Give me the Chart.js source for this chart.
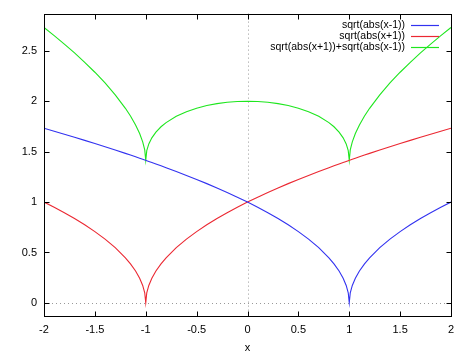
<!DOCTYPE html>
<html><head><meta charset="utf-8">
<script src="https://cdn.jsdelivr.net/npm/chart.js@4/dist/chart.umd.min.js"></script>
<style>html,body{margin:0;padding:0;background:#fff}#wrap{width:474px;height:355px}</style>
</head><body><div id="wrap"><canvas id="c" width="474" height="355"></canvas></div>
<script>
const xs = [-2, -1.9, -1.8, -1.7, -1.6, -1.5, -1.4, -1.3, -1.2, -1.15, -1.1, -1.06, -1.03, -1.01, -1, -0.99, -0.97, -0.94, -0.9, -0.85, -0.8, -0.7, -0.6, -0.5, -0.4, -0.3, -0.2, -0.1, 0, 0.1, 0.2, 0.3, 0.4, 0.5, 0.6, 0.7, 0.8, 0.85, 0.9, 0.94, 0.97, 0.99, 1, 1.01, 1.03, 1.06, 1.1, 1.15, 1.2, 1.3, 1.4, 1.5, 1.6, 1.7, 1.8, 1.9, 2];
const sqrtAbsXm1 = [1.7321, 1.7029, 1.6733, 1.6432, 1.6125, 1.5811, 1.5492, 1.5166, 1.4832, 1.4663, 1.4491, 1.4353, 1.4248, 1.4177, 1.4142, 1.4107, 1.4036, 1.3928, 1.3784, 1.3601, 1.3416, 1.3038, 1.2649, 1.2247, 1.1832, 1.1402, 1.0954, 1.0488, 1, 0.9487, 0.8944, 0.8367, 0.7746, 0.7071, 0.6325, 0.5477, 0.4472, 0.3873, 0.3162, 0.2449, 0.1732, 0.1, 0, 0.1, 0.1732, 0.2449, 0.3162, 0.3873, 0.4472, 0.5477, 0.6325, 0.7071, 0.7746, 0.8367, 0.8944, 0.9487, 1];
const sqrtAbsXp1 = [1, 0.9487, 0.8944, 0.8367, 0.7746, 0.7071, 0.6325, 0.5477, 0.4472, 0.3873, 0.3162, 0.2449, 0.1732, 0.1, 0, 0.1, 0.1732, 0.2449, 0.3162, 0.3873, 0.4472, 0.5477, 0.6325, 0.7071, 0.7746, 0.8367, 0.8944, 0.9487, 1, 1.0488, 1.0954, 1.1402, 1.1832, 1.2247, 1.2649, 1.3038, 1.3416, 1.3601, 1.3784, 1.3928, 1.4036, 1.4107, 1.4142, 1.4177, 1.4248, 1.4353, 1.4491, 1.4663, 1.4832, 1.5166, 1.5492, 1.5811, 1.6125, 1.6432, 1.6733, 1.7029, 1.7321];
const sumSqrt = [2.7321, 2.6516, 2.5677, 2.4799, 2.3871, 2.2882, 2.1817, 2.0643, 1.9304, 1.8536, 1.7653, 1.6802, 1.5980, 1.5177, 1.4142, 1.5107, 1.5768, 1.6377, 1.6946, 1.7474, 1.7888, 1.8515, 1.8974, 1.9318, 1.9578, 1.9769, 1.9898, 1.9975, 2, 1.9975, 1.9898, 1.9769, 1.9578, 1.9318, 1.8974, 1.8515, 1.7888, 1.7474, 1.6946, 1.6377, 1.5768, 1.5107, 1.4142, 1.5177, 1.5980, 1.6802, 1.7653, 1.8536, 1.9304, 2.0643, 2.1817, 2.2882, 2.3871, 2.4799, 2.5677, 2.6516, 2.7321];
const seriesLabels = ['sqrt(abs(x-1))', 'sqrt(abs(x+1))', 'sqrt(abs(x+1))+sqrt(abs(x-1))'];
const xTicks = [-2, -1.5, -1, -0.5, 0, 0.5, 1, 1.5, 2];
const yTicks = [0, 0.5, 1, 1.5, 2, 2.5];
const colors = ['rgb(50,50,240)', 'rgb(235,40,50)', 'rgb(30,230,30)'];

const FONT = 'Liberation Sans, Arial, sans-serif';
const pts = arr => xs.map((x, i) => ({x: x, y: arr[i]}));
const seriesData = [sqrtAbsXm1, sqrtAbsXp1, sumSqrt];
const fmt = v => String(v);

const framePlugin = {
  id: 'frame',
  beforeDatasetsDraw(chart) {
    const {ctx, chartArea: a, scales: {x, y}} = chart;
    ctx.save();
    ctx.strokeStyle = '#999';
    ctx.lineWidth = 1;
    ctx.setLineDash([1, 3]);
    const y0 = Math.round(y.getPixelForValue(0)) + 0.5;
    ctx.beginPath(); ctx.moveTo(a.left, y0); ctx.lineTo(a.right, y0); ctx.stroke();
    const x0 = Math.round(x.getPixelForValue(0)) + 0.5;
    ctx.beginPath(); ctx.moveTo(x0, a.top); ctx.lineTo(x0, a.bottom); ctx.stroke();
    ctx.restore();
  },
  afterDraw(chart) {
    const {ctx, chartArea: a, scales: {x, y}} = chart;
    ctx.save();
    ctx.strokeStyle = '#000';
    ctx.lineWidth = 1;
    ctx.setLineDash([]);
    const L = Math.round(a.left) + 0.5, R = Math.round(a.right) + 0.5;
    const T = Math.round(a.top) + 0.5, B = Math.round(a.bottom) + 0.5;
    ctx.strokeRect(L, T, R - L, B - T);
    const tl = 5;
    ctx.beginPath();
    xTicks.forEach(v => {
      const px = Math.round(x.getPixelForValue(v)) + 0.5;
      ctx.moveTo(px, B); ctx.lineTo(px, B - tl);
      ctx.moveTo(px, T); ctx.lineTo(px, T + tl);
    });
    yTicks.forEach(v => {
      const py = Math.round(y.getPixelForValue(v)) + 0.5;
      ctx.moveTo(L, py); ctx.lineTo(L + tl, py);
      ctx.moveTo(R, py); ctx.lineTo(R - tl, py);
    });
    ctx.stroke();
    // legend
    ctx.font = '10.5px ' + FONT;
    ctx.textAlign = 'right';
    ctx.textBaseline = 'middle';
    chart.data.datasets.forEach((ds, i) => {
      const ry = Math.round(a.top + 11.5 + i * 10.7);
      ctx.fillStyle = '#000';
      ctx.fillText(ds.label, a.left + 361, ry);
      ctx.strokeStyle = colors[i];
      ctx.lineWidth = 1.2;
      ctx.beginPath();
      ctx.moveTo(a.left + 367, ry + 0.5);
      ctx.lineTo(a.left + 395, ry + 0.5);
      ctx.stroke();
    });
    ctx.restore();
  }
};

new Chart(document.getElementById('c'), {
  type: 'scatter',
  data: {
    datasets: seriesData.map((arr, i) => ({
      label: seriesLabels[i],
      data: pts(arr),
      showLine: true,
      borderColor: colors[i],
      backgroundColor: colors[i],
      borderWidth: 1.1,
      pointRadius: 0,
      tension: 0
    }))
  },
  options: {
    responsive: false,
    animation: false,
    layout: {padding: {left: 0, top: 12, right: 23, bottom: 0}},
    plugins: {legend: {display: false}, tooltip: {enabled: false}},
    scales: {
      x: {
        type: 'linear', min: -2, max: 2,
        afterBuildTicks: s => { s.ticks = xTicks.map(v => ({value: v})); },
        afterFit: s => { s.height = 39; },
        grid: {display: false, drawTicks: false},
        border: {display: false},
        ticks: {padding: 7, color: '#000', font: {family: FONT, size: 11}, maxRotation: 0, autoSkip: false, callback: v => fmt(v)},
        title: {display: true, text: 'x', color: '#000', font: {family: FONT, size: 11}, padding: {top: 0, bottom: 0}}
      },
      y: {
        type: 'linear', min: -0.13, max: 2.87,
        afterBuildTicks: s => { s.ticks = yTicks.map(v => ({value: v})); },
        afterFit: s => { s.width = 44; },
        grid: {display: false, drawTicks: false},
        border: {display: false},
        ticks: {padding: 7, color: '#000', font: {family: FONT, size: 11}, autoSkip: false, callback: v => fmt(v)}
      }
    }
  },
  plugins: [framePlugin]
});
</script>
</body></html>
